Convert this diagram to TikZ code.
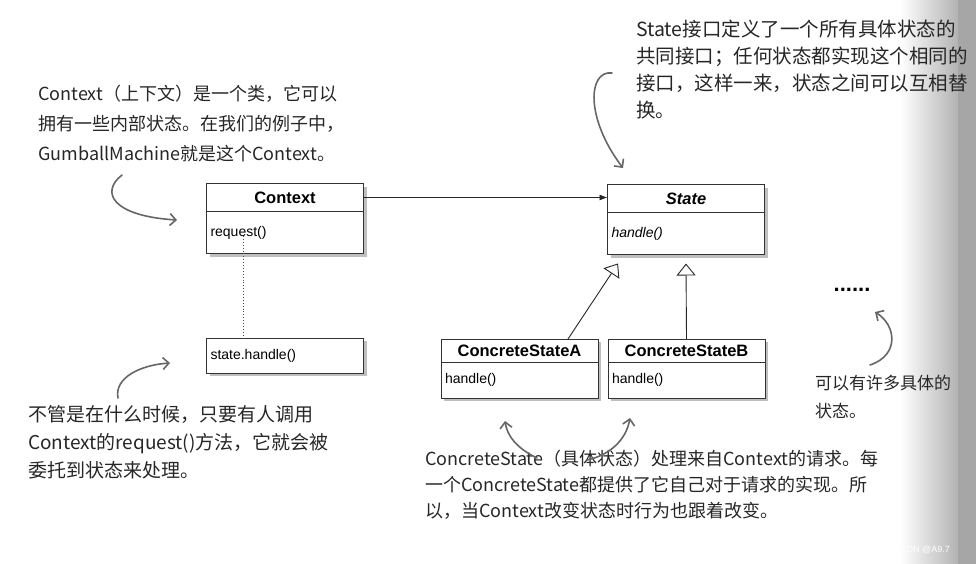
\documentclass[tikz,border=0pt]{standalone}
\usepackage{fontspec}
\setmainfont{Liberation Sans}
\newfontfamily\cjk{Noto Sans CJK SC}
\usepackage{xcolor}
\usepackage{tikz}
\usetikzlibrary{arrows.meta,positioning,calc,shadows}

\begin{document}
\begin{tikzpicture}[
  x=1pt, y=-1pt,
  umltitle/.style={draw=black!80, line width=.8pt, fill=white, outer sep=0pt, inner sep=0pt,
    minimum width=157, minimum height=28, font=\fontsize{16.5}{18}\selectfont\bfseries,
    drop shadow={opacity=.5, shadow xshift=3pt, shadow yshift=-3pt}},
  umlbody/.style={draw=black!80, line width=.8pt, fill=white, outer sep=0pt, inner xsep=4pt, inner ysep=0pt,
    text width=149, align=left, minimum height=42, font=\fontsize{14}{16}\selectfont,
    drop shadow={opacity=.5, shadow xshift=3pt, shadow yshift=-3pt}},
  note/.style={anchor=north west, inner sep=0pt, align=left, text=black!85},
  assoc/.style={-{Latex[length=8pt,width=6pt]}, line width=.9pt, black!85},
  inherit/.style={-{Triangle[length=12pt,width=19pt,fill=white]}, line width=.9pt, black!85},
  hand/.style={-{Straight Barb[length=6pt,width=12pt]}, line width=1.6pt, black!60, line cap=round}
]
\useasboundingbox (0,0) rectangle (976,564);
% page edge
\fill[left color=white, right color=black!30] (900,0) rectangle (958,564);
\fill[black!35] (958,0) rectangle (976,564);

% classes
\node[umltitle] (ctxt) at (285,197.5) {Context};
\node[umlbody, below=0pt of ctxt] (ctxm) {request()};
\node[umlbody, minimum height=35] (sth) at (285,355.5) {state.handle()};

\node[umltitle, font=\fontsize{16.5}{18}\selectfont\bfseries\itshape] (stt) at (686,198.5) {State};
\node[umlbody, below=0pt of stt, font=\fontsize{14}{16}\selectfont\itshape] (stm) {handle()};

\node[umltitle, minimum height=23] (csat) at (519.5,350.5) {ConcreteStateA};
\node[umlbody, below=0pt of csat, minimum height=36] (csam) {handle()};
\node[umltitle, minimum height=23] (csbt) at (686.5,350.5) {ConcreteStateB};
\node[umlbody, below=0pt of csbt, minimum height=36] (csbm) {handle()};

\node[font=\fontsize{22}{24}\selectfont\bfseries] (more) at (852,290) {......};

% relations
\draw[assoc] (ctxt.east) -- (ctxt.east -| stt.west);
\coordinate (req) at (243,236);
\draw[dotted, line width=.9pt, black!70] (req) -- (req |- sth.north);
\draw[inherit] ($(csat.north east)+(-30,0)$) -- ($(stm.south)+(-68,9)$);
\draw[inherit] (csbt.north) -- ($(stm.south)+(0,9)$);

% notes
\node[note, font=\cjk\fontsize{18}{30}\selectfont] (ctxnote) at (38,85)
  {Context（上下文）是一个类，它可以\\拥有一些内部状态。在我们的例子中，\\GumballMachine就是这个Context。};
\node[note, font=\cjk\fontsize{19.5}{27}\selectfont] (statenote) at (636,20)
  {State接口定义了一个所有具体状态的\\共同接口；任何状态都实现这个相同的\\接口，这样一来，状态之间可以互相替\\换。};
\node[note, font=\cjk\fontsize{19}{28}\selectfont] (reqnote) at (28,405)
  {不管是在什么时候，只要有人调用\\Context的request()方法，它就会被\\委托到状态来处理。};
\node[note, font=\cjk\fontsize{18}{26}\selectfont] (concnote) at (425,450)
  {ConcreteState（具体状态）处理来自Context的请求。每\\一个ConcreteState都提供了它自己对于请求的实现。所\\以，当Context改变状态时行为也跟着改变。};
\node[note, font=\cjk\fontsize{17}{28}\selectfont] (morenote) at (815,375)
  {可以有许多具体的\\状态。};

% hand arrows
\coordinate (h1) at (122,175);
\coordinate (h1e) at (177,220);
\draw[hand] (h1) .. controls (100,192) and (112,216) .. (h1e);
\coordinate (h2) at (612,73);
\coordinate (h2e) at (623,168);
\draw[hand] (h2) .. controls (588,70) and (585,118) .. (h2e);
\coordinate (h3) at (118,398);
\coordinate (h3e) at (170,363);
\draw[hand] (h3) .. controls (114,378) and (140,365) .. (h3e);
\coordinate (h4) at (537,458);
\coordinate (h4e) at (505,421);
\draw[hand] (h4) .. controls (516,448) and (507,435) .. (h4e);
\coordinate (h5) at (587,460);
\coordinate (h5e) at (630,418);
\draw[hand] (h5) .. controls (610,455) and (626,440) .. (h5e);
\coordinate (h6) at (870,365);
\coordinate (h6e) at (875,312);
\draw[hand] (h6) .. controls (900,355) and (896,325) .. (h6e);

\node[font=\fontsize{9}{10}\selectfont, text=white] (mark) at (922,550) {CSDN @A9.7};
\end{tikzpicture}
\end{document}
